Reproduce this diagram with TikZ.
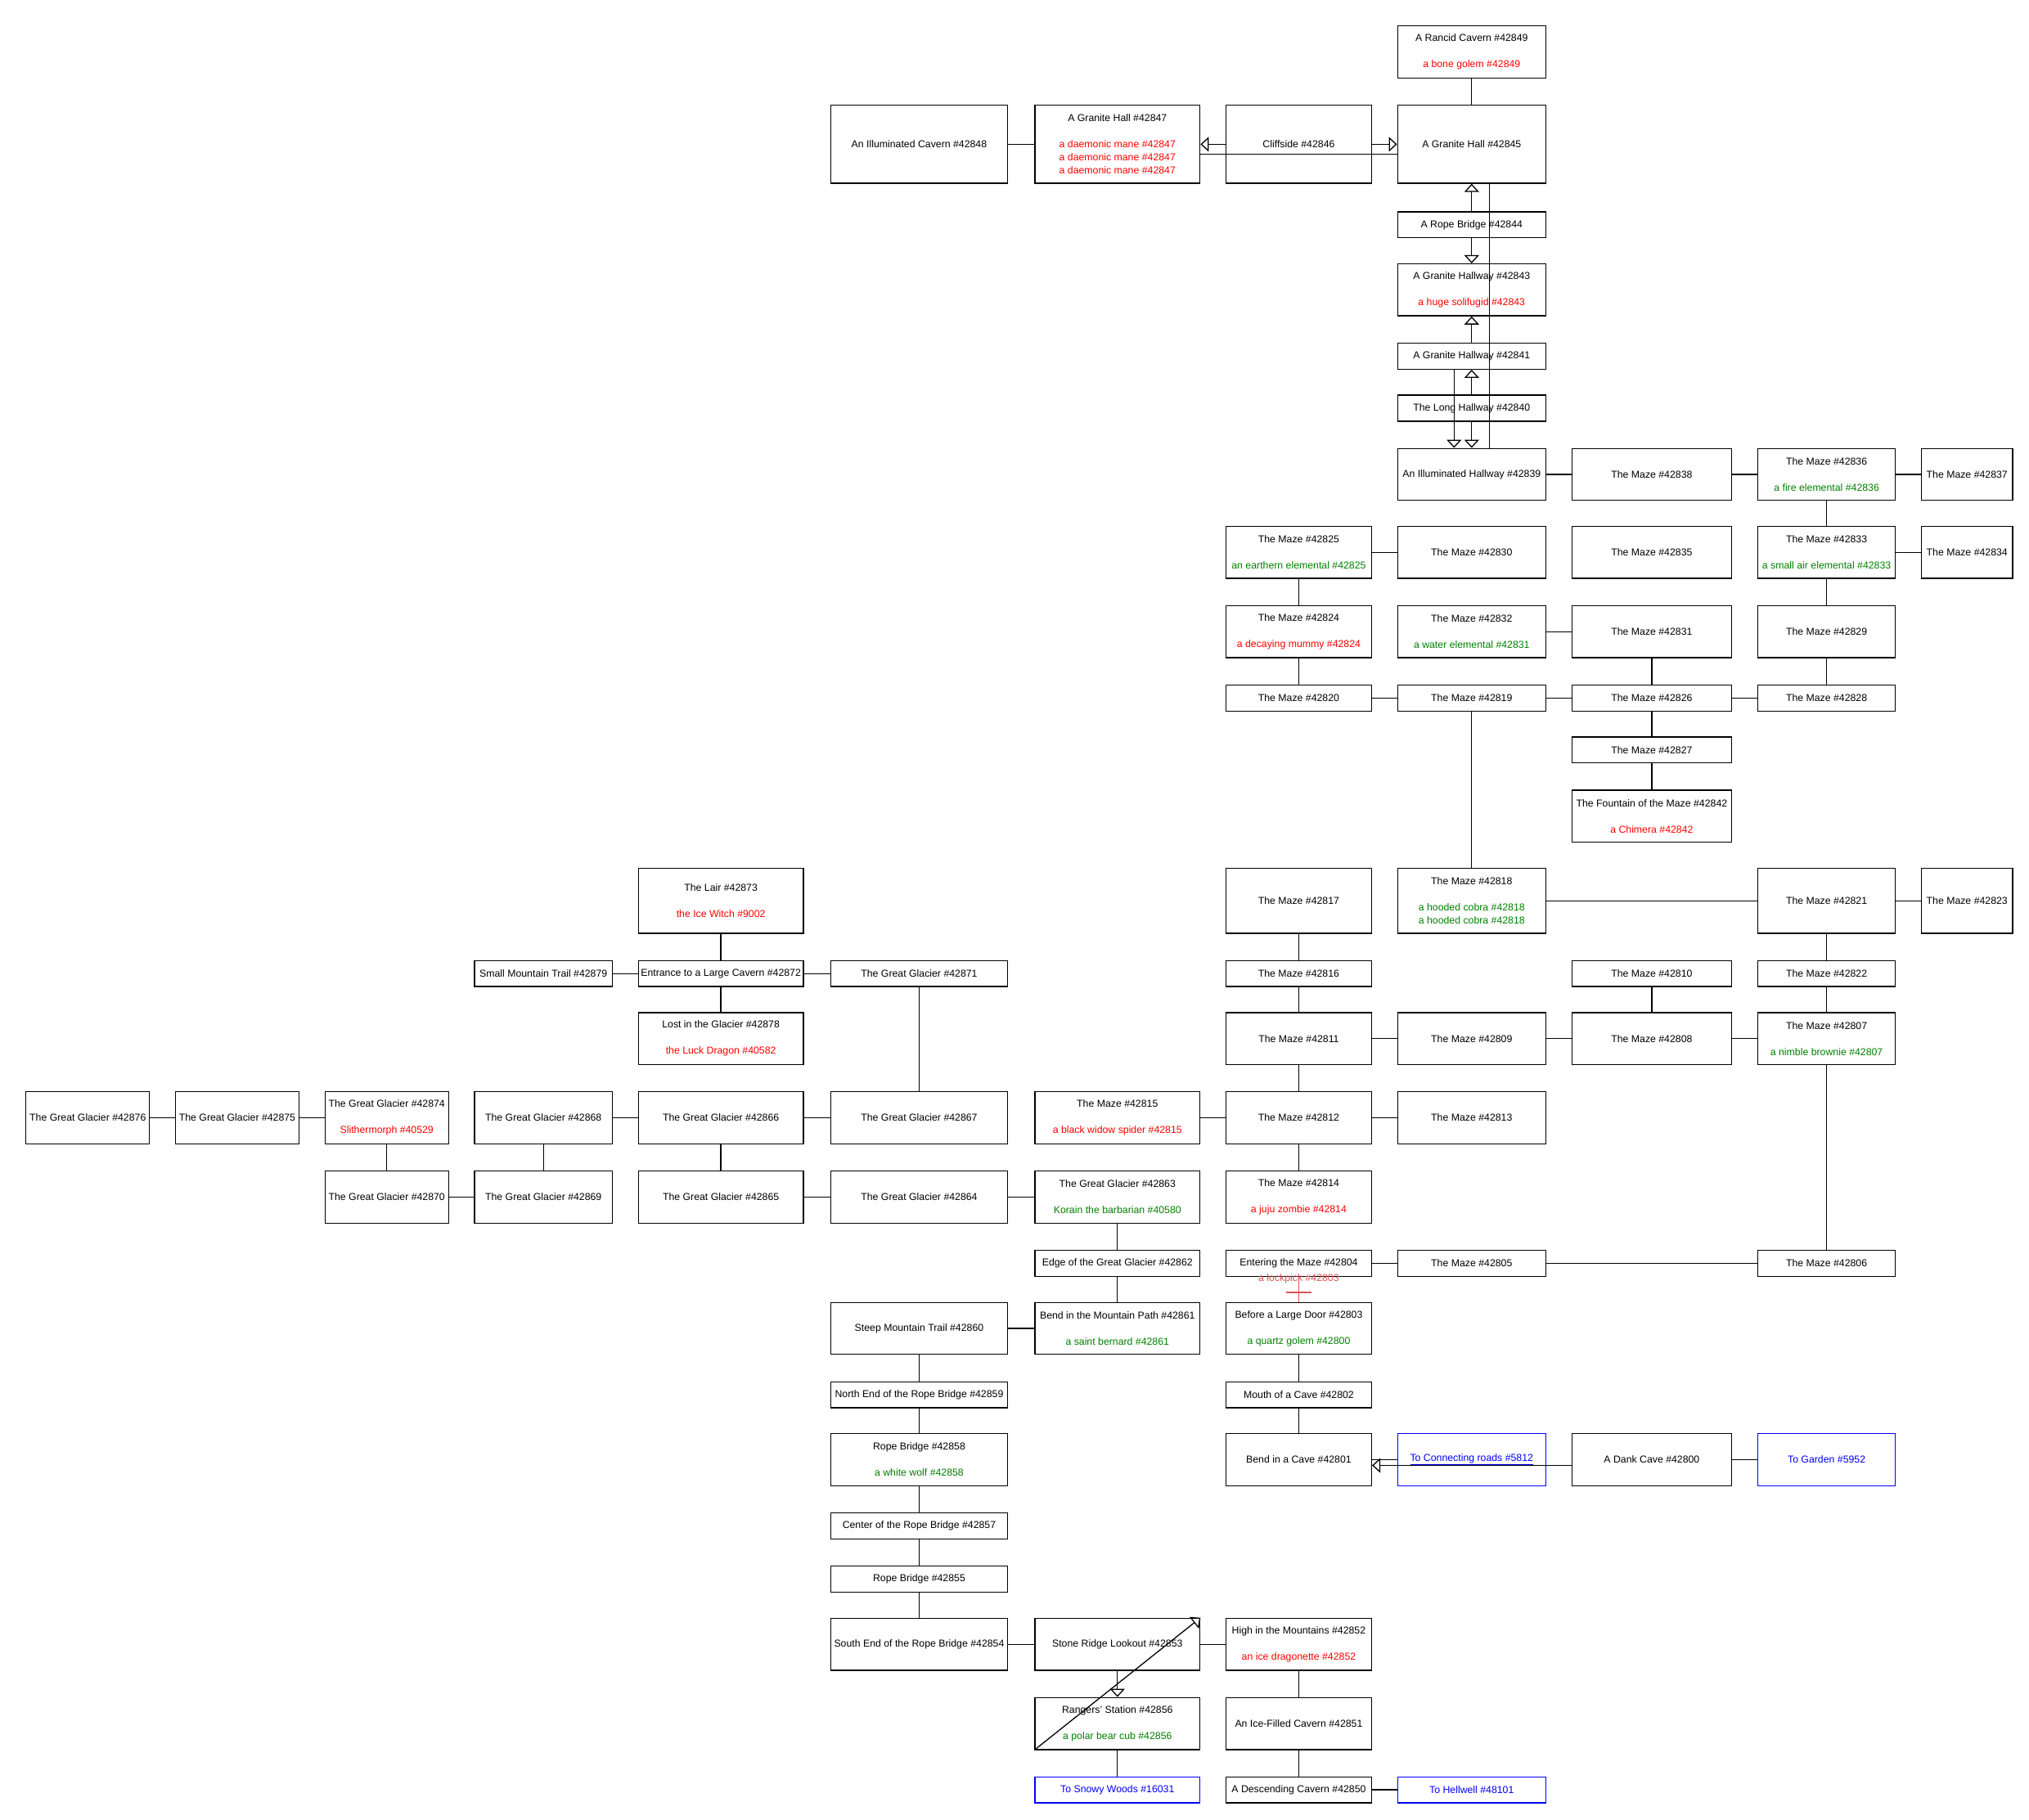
\documentclass[tikz,border=0pt]{standalone}
\usepackage{fontspec}
\setmainfont{Liberation Sans}
\usetikzlibrary{arrows.meta,calc}
\newcommand\un{1.589}
\definecolor{mob}{rgb}{1,0,0}
\definecolor{pet}{rgb}{0,0.5,0}
\definecolor{ext}{rgb}{0,0,1}
\definecolor{lock}{rgb}{0.85,0.33,0.33}
\newcommand\mob[1]{\textcolor{mob}{#1}}
\newcommand\pet[1]{\textcolor{pet}{#1}}
\tikzset{
  room/.style={draw,line width=1.3pt,inner sep=0pt,align=center,minimum height=20*\un pt},
  exit/.style={room,draw=ext,text=ext},
  hb/.style={minimum height=40*\un pt},
  hc/.style={minimum height=50*\un pt},
  hd/.style={minimum height=60*\un pt},
  wA/.style={minimum width=95*\un pt},
  wD/.style={minimum width=106*\un pt},
  wE/.style={minimum width=127*\un pt},
  wF/.style={minimum width=136*\un pt},
  wH/.style={minimum width=112*\un pt},
  wI/.style={minimum width=114*\un pt},
  wJ/.style={minimum width=123*\un pt},
  wL/.style={minimum width=70*\un pt},
  arr/.style={-{Triangle[open,width=18pt,length=10pt]}},
}
\begin{document}
\begin{tikzpicture}[x=\un pt,y=-\un pt,line width=1.3pt,font=\fontsize{12.3}{16}\selectfont]
\useasboundingbox (0,0) rectangle (1560.7,1399.6);
% top tower
\node[room,wI,hb] (r42849) at (1132,40) {A Rancid Cavern \#42849\\[16pt]\mob{a bone golem \#42849}};
\node[room,wF,hd] (r42848) at (707,111) {An Illuminated Cavern \#42848};
\node[room,wE,hd] (r42847) at (859.5,111) {A Granite Hall \#42847\\[16pt]\mob{a daemonic mane \#42847}\\\mob{a daemonic mane \#42847}\\\mob{a daemonic mane \#42847}};
\node[room,wH,hd] (r42846) at (999,111) {Cliffside \#42846};
\node[room,wI,hd] (r42845) at (1132,111) {A Granite Hall \#42845};
\node[room,wI] (r42844) at (1132,173) {A Rope Bridge \#42844};
\node[room,wI,hb] (r42843) at (1132,223) {A Granite Hallway \#42843\\[16pt]\mob{a huge solifugid \#42843}};
\node[room,wI] (r42841) at (1132,274) {A Granite Hallway \#42841};
\node[room,wI] (r42840) at (1132,314) {The Long Hallway \#42840};
% maze
\node[room,wI,hb] (r42839) at (1132,365) {An Illuminated Hallway \#42839};
\node[room,wJ,hb] (r42838) at (1270.5,365) {The Maze \#42838};
\node[room,wD,hb] (r42836) at (1405,365) {The Maze \#42836\\[16pt]\pet{a fire elemental \#42836}};
\node[room,wL,hb] (r42837) at (1513,365) {The Maze \#42837};
\node[room,wH,hb] (r42825) at (999,425) {The Maze \#42825\\[16pt]\pet{an earthern elemental \#42825}};
\node[room,wI,hb] (r42830) at (1132,425) {The Maze \#42830};
\node[room,wJ,hb] (r42835) at (1270.5,425) {The Maze \#42835};
\node[room,wD,hb] (r42833) at (1405,425) {The Maze \#42833\\[16pt]\pet{a small air elemental \#42833}};
\node[room,wL,hb] (r42834) at (1513,425) {The Maze \#42834};
\node[room,wH,hb] (r42824) at (999,486) {The Maze \#42824\\[16pt]\mob{a decaying mummy \#42824}};
\node[room,wI,hb] (r42832) at (1132,486) {The Maze \#42832\\[16pt]\pet{a water elemental \#42831}};
\node[room,wJ,hb] (r42831) at (1270.5,486) {The Maze \#42831};
\node[room,wD,hb] (r42829) at (1405,486) {The Maze \#42829};
\node[room,wH] (r42820) at (999,537) {The Maze \#42820};
\node[room,wI] (r42819) at (1132,537) {The Maze \#42819};
\node[room,wJ] (r42826) at (1270.5,537) {The Maze \#42826};
\node[room,wD] (r42828) at (1405,537) {The Maze \#42828};
\node[room,wJ] (r42827) at (1270.5,577) {The Maze \#42827};
\node[room,wJ,hb] (r42842) at (1270.5,628) {The Fountain of the Maze \#42842\\[16pt]\mob{a Chimera \#42842}};
\node[room,wH,hc] (r42817) at (999,693) {The Maze \#42817};
\node[room,wI,hc] (r42818) at (1132,693) {The Maze \#42818\\[16pt]\pet{a hooded cobra \#42818}\\\pet{a hooded cobra \#42818}};
\node[room,wD,hc] (r42821) at (1405,693) {The Maze \#42821};
\node[room,wL,hc] (r42823) at (1513,693) {The Maze \#42823};
\node[room,wH] (r42816) at (999,749) {The Maze \#42816};
\node[room,wJ] (r42810) at (1270.5,749) {The Maze \#42810};
\node[room,wD] (r42822) at (1405,749) {The Maze \#42822};
\node[room,wH,hb] (r42811) at (999,799) {The Maze \#42811};
\node[room,wI,hb] (r42809) at (1132,799) {The Maze \#42809};
\node[room,wJ,hb] (r42808) at (1270.5,799) {The Maze \#42808};
\node[room,wD,hb] (r42807) at (1405,799) {The Maze \#42807\\[16pt]\pet{a nimble brownie \#42807}};
\node[room,wE,hb] (r42815) at (859.5,860) {The Maze \#42815\\[16pt]\mob{a black widow spider \#42815}};
\node[room,wH,hb] (r42812) at (999,860) {The Maze \#42812};
\node[room,wI,hb] (r42813) at (1132,860) {The Maze \#42813};
\node[room,wH,hb] (r42814) at (999,921) {The Maze \#42814\\[16pt]\mob{a juju zombie \#42814}};
\node[room,wH] (r42804) at (999,972) {Entering the Maze \#42804};
\node[room,wI] (r42805) at (1132,972) {The Maze \#42805};
\node[room,wD] (r42806) at (1405,972) {The Maze \#42806};
\node[room,wH,hb] (r42803) at (999,1022) {Before a Large Door \#42803\\[16pt]\pet{a quartz golem \#42800}};
\node[room,wH] (r42802) at (999,1073) {Mouth of a Cave \#42802};
\node[room,wH,hb] (r42801) at (999,1123) {Bend in a Cave \#42801};
\node[exit,wI,hb] (x5812) at (1132,1123) {\underline{To Connecting roads \#5812}};
\node[room,wJ,hb] (r42800) at (1270.5,1123) {A Dank Cave \#42800};
\node[exit,wD,hb] (x5952) at (1405,1123) {To Garden \#5952};
\node[text=lock] (lockpick) at (999,984) {a lockpick \#42803};
% glacier
\node[room,wE,hc] (r42873) at (554.5,693) {The Lair \#42873\\[16pt]\mob{the Ice Witch \#9002}};
\node[room,wD] (r42879) at (418,749) {Small Mountain Trail \#42879};
\node[room,wE] (r42872) at (554.5,749) {Entrance to a Large Cavern \#42872};
\node[room,wF] (r42871) at (707,749) {The Great Glacier \#42871};
\node[room,wE,hb] (r42878) at (554.5,799) {Lost in the Glacier \#42878\\[16pt]\mob{the Luck Dragon \#40582}};
\node[room,wA,hb] (r42876) at (67.5,860) {The Great Glacier \#42876};
\node[room,wA,hb] (r42875) at (182.5,860) {The Great Glacier \#42875};
\node[room,wA,hb] (r42874) at (297.5,860) {The Great Glacier \#42874\\[16pt]\mob{Slithermorph \#40529}};
\node[room,wD,hb] (r42868) at (418,860) {The Great Glacier \#42868};
\node[room,wE,hb] (r42866) at (554.5,860) {The Great Glacier \#42866};
\node[room,wF,hb] (r42867) at (707,860) {The Great Glacier \#42867};
\node[room,wA,hb] (r42870) at (297.5,921) {The Great Glacier \#42870};
\node[room,wD,hb] (r42869) at (418,921) {The Great Glacier \#42869};
\node[room,wE,hb] (r42865) at (554.5,921) {The Great Glacier \#42865};
\node[room,wF,hb] (r42864) at (707,921) {The Great Glacier \#42864};
\node[room,wE,hb] (r42863) at (859.5,921) {The Great Glacier \#42863\\[16pt]\pet{Korain the barbarian \#40580}};
\node[room,wE] (r42862) at (859.5,972) {Edge of the Great Glacier \#42862};
\node[room,wF,hb] (r42860) at (707,1022) {Steep Mountain Trail \#42860};
\node[room,wE,hb] (r42861) at (859.5,1022) {Bend in the Mountain Path \#42861\\[16pt]\pet{a saint bernard \#42861}};
\node[room,wF] (r42859) at (707,1073) {North End of the Rope Bridge \#42859};
\node[room,wF,hb] (r42858) at (707,1123) {Rope Bridge \#42858\\[16pt]\pet{a white wolf \#42858}};
\node[room,wF] (r42857) at (707,1174) {Center of the Rope Bridge \#42857};
\node[room,wF] (r42855) at (707,1215) {Rope Bridge \#42855};
\node[room,wF,hb] (r42854) at (707,1265) {South End of the Rope Bridge \#42854};
\node[room,wE,hb] (r42853) at (859.5,1265) {Stone Ridge Lookout \#42853};
\node[room,wH,hb] (r42852) at (999,1265) {High in the Mountains \#42852\\[16pt]\mob{an ice dragonette \#42852}};
\node[room,wE,hb] (r42856) at (859.5,1326) {Rangers' Station \#42856\\[16pt]\pet{a polar bear cub \#42856}};
\node[room,wH,hb] (r42851) at (999,1326) {An Ice-Filled Cavern \#42851};
\node[exit,wE] (x16031) at (859.5,1377) {To Snowy Woods \#16031};
\node[room,wH] (r42850) at (999,1377) {A Descending Cavern \#42850};
\node[exit,wI] (x48101) at (1132,1377) {To Hellwell \#48101};
% tower links
\draw (r42849) -- (r42845);
\draw (r42848) -- (r42847);
\draw[arr] (r42846) -- (r42847);
\draw[arr] (r42846) -- (r42845);
\draw ([yshift=-12pt]r42845.west) -- ([yshift=-12pt]r42847.east);
\draw[arr] (r42844) -- (r42845);
\draw[arr] (r42844) -- (r42843);
\draw[arr] (r42841) -- (r42843);
\draw[arr] (r42840) -- (r42841);
\draw[arr] (r42840) -- (r42839);
\draw ([xshift=21.5pt]r42845.south) -- ([xshift=21.5pt]r42839.north);
\draw[arr] ([xshift=-21.5pt]r42841.south) -- ([xshift=-21.5pt]r42839.north);
% maze links
\draw (r42839) -- (r42838) -- (r42836) -- (r42837);
\draw (r42836) -- (r42833) -- (r42834);
\draw (r42833) -- (r42829) -- (r42828);
\draw (r42825) -- (r42830);
\draw (r42825) -- (r42824) -- (r42820);
\draw (r42832) -- (r42831) -- (r42826);
\draw (r42820) -- (r42819) -- (r42826) -- (r42828);
\draw (r42826) -- (r42827) -- (r42842);
\draw (r42819) -- (r42818) -- (r42821) -- (r42823);
\draw (r42821) -- (r42822) -- (r42807);
\draw (r42810) -- (r42808);
\draw (r42817) -- (r42816) -- (r42811) -- (r42809) -- (r42808) -- (r42807);
\draw (r42811) -- (r42812) -- (r42813);
\draw (r42815) -- (r42812) -- (r42814);
\draw (r42807) -- (r42806);
\draw (r42804) -- (r42805) -- (r42806);
\draw[lock] (r42804) -- (r42803);
\draw[lock] ($(r42804.south)!0.62!(r42803.north)+(-10,0)$) -- +(20,0);
\draw (r42803) -- (r42802) -- (r42801);
\draw (x5812) -- (r42801);
\draw[arr] ([yshift=-7pt]r42800.west) -- ([yshift=-7pt]r42801.east);
\draw (r42800) -- (x5952);
% glacier links
\draw (r42873) -- (r42872) -- (r42878);
\draw (r42879) -- (r42872) -- (r42871) -- (r42867);
\draw (r42876) -- (r42875) -- (r42874) -- (r42870) -- (r42869) -- (r42868) -- (r42866);
\draw (r42866) -- (r42867);
\draw (r42866) -- (r42865) -- (r42864) -- (r42863) -- (r42862) -- (r42861) -- (r42860);
\draw (r42860) -- (r42859) -- (r42858) -- (r42857) -- (r42855) -- (r42854) -- (r42853) -- (r42852);
\draw[arr] (r42853) -- (r42856);
\draw[arr] (r42856.south west) -- (r42853.north east);
\draw (r42856) -- (x16031);
\draw (r42852) -- (r42851) -- (r42850) -- (x48101);
\end{tikzpicture}
\end{document}
